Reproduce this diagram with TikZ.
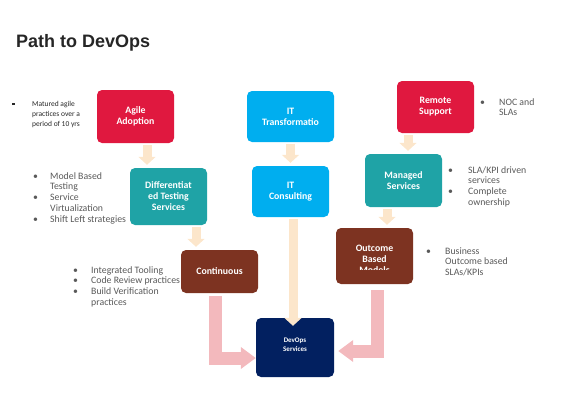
\documentclass[tikz,border=0pt]{standalone}
\usepackage{fontspec}
\setmainfont{Carlito}
\newfontfamily\titlefont{Liberation Sans}
\usetikzlibrary{arrows.meta}
\definecolor{boxred}{HTML}{E0183F}
\definecolor{boxteal}{HTML}{1FA3A6}
\definecolor{boxblue}{HTML}{00AEEF}
\definecolor{boxbrown}{HTML}{7D3321}
\definecolor{boxnavy}{HTML}{022060}
\definecolor{arrbeige}{HTML}{FCE6CB}
\definecolor{arrpink}{HTML}{F3B9BD}
\definecolor{listgray}{HTML}{595959}
\definecolor{titlegray}{HTML}{262626}
\tikzset{
  stepbox/.style={rounded corners=5pt, inner sep=0pt, minimum width=77pt},
  boxtext/.style={text=white, align=center, inner sep=0pt, font=\bfseries\fontsize{9.8}{11}\selectfont},
  bullets/.style={text=listgray, inner sep=0pt, anchor=north west, font=\fontsize{9.8}{10.75}\selectfont},
  beigearrow/.style={draw=arrbeige, line width=9pt, -{Triangle[length=8pt,width=17pt]}},
  pinkarrow/.style={draw=arrpink, line width=13pt, line join=miter, -{Triangle[length=15pt,width=21pt]}}
}
\begin{document}
\begin{tikzpicture}[x=1pt, y=-1pt]
\useasboundingbox (0,0) rectangle (570,400);
\node[anchor=base west, inner sep=0pt, text=titlegray, font=\titlefont\bfseries\fontsize{18}{20}\selectfont] (title) at (16,47) {Path to DevOps};

\node[stepbox, fill=boxred, minimum height=53pt] (agile) at (135.5,116.5) {};
\node[boxtext] at (agile) {Agile\\Adoption};
\node[stepbox, fill=boxteal, minimum height=57pt] (difftest) at (168.5,196.5) {};
\node[boxtext] at (difftest) {Differentiat\\ed Testing\\Services};
\node[stepbox, fill=boxbrown, minimum height=43pt] (cont) at (219.5,271.5) {};
\node[boxtext] at (cont) {Continuous};
\node[stepbox, fill=boxblue, minimum width=87pt, minimum height=51pt] (ittrans) at (290.5,116.5) {};
\node[boxtext] at (ittrans) {IT\\Transformatio};
\node[stepbox, fill=boxblue, minimum height=51pt] (itcons) at (290.5,191.5) {};
\node[boxtext] at (itcons) {IT\\Consulting};
\node[stepbox, fill=boxred, minimum height=52pt] (remote) at (435.5,107) {};
\node[boxtext] at (remote) {Remote\\Support};
\node[stepbox, fill=boxteal, minimum height=53pt] (managed) at (403.5,180.5) {};
\node[boxtext] at (managed) {Managed\\Services};
\node[stepbox, fill=boxbrown, minimum height=56pt] (outcome) at (374.5,256) {};
\begin{scope}
\clip (336,228) rectangle (413,269);
\node[boxtext] at ([yshift=-3pt]outcome.center) {Outcome\\Based\\Models};
\end{scope}
\node[stepbox, fill=boxnavy, minimum width=78pt, minimum height=59pt] (devops) at (295,347.5) {};
\node[boxtext, font=\bfseries\fontsize{7}{9}\selectfont] at ([yshift=3pt]devops.center) {DevOps\\Services};

\draw[beigearrow] ([xshift=11.5pt,yshift=-2pt]agile.south) -- ([xshift=11.5pt,yshift=3pt]agile.south |- difftest.north);
\draw[beigearrow] ([xshift=-23.5pt]cont.north |- difftest.south) ++(0,2) -- ([xshift=-23.5pt,yshift=3pt]cont.north);
\draw[beigearrow] ([yshift=-2pt]ittrans.south) -- ([yshift=3pt]itcons.north);
\draw[beigearrow] ([xshift=2.5pt,yshift=-2pt]itcons.south) -- ([xshift=2.5pt,yshift=-8pt]itcons.south |- devops.north);
\draw[beigearrow] ([xshift=4.5pt]managed.north |- remote.south) ++(0,2) -- ([xshift=4.5pt,yshift=3pt]managed.north);
\draw[beigearrow] ([xshift=12.5pt]outcome.north |- managed.south) ++(0,2) -- ([xshift=12.5pt,yshift=3pt]outcome.north);

\draw[pinkarrow] ([xshift=-4pt,yshift=-3pt]cont.south) |- ([yshift=-10.5pt]devops.west);
\draw[pinkarrow] ([xshift=3pt,yshift=-6pt]outcome.south) |- ([xshift=4pt,yshift=-3.5pt]devops.east);

\node[bullets, text=titlegray, font=\fontsize{7.5}{10}\selectfont] (maturedlist) at (12,99.5) {\begin{tabular}{@{}p{20pt}@{}l@{}}
\rule[1.5pt]{2.5pt}{2.5pt} & Matured agile\\ & practices over a\\ & period of 10 yrs
\end{tabular}};
\node[bullets] (difflist) at (33,171.5) {\begin{tabular}{@{}p{17pt}@{}l@{}}
\textbullet & Model Based\\ & Testing\\ \textbullet & Service\\ & Virtualization\\ \textbullet & Shift Left strategies
\end{tabular}};
\node[bullets] (contlist) at (73,265.5) {\begin{tabular}{@{}p{18pt}@{}l@{}}
\textbullet & Integrated Tooling\\ \textbullet & Code Review practices\\ \textbullet & Build Verification\\ & practices
\end{tabular}};
\node[bullets] (remotelist) at (480,97.5) {\begin{tabular}{@{}p{19pt}@{}l@{}}
\textbullet & NOC and\\ & SLAs
\end{tabular}};
\node[bullets] (managedlist) at (448,165.5) {\begin{tabular}{@{}p{20pt}@{}l@{}}
\textbullet & SLA/KPI driven\\ & services\\ \textbullet & Complete\\ & ownership
\end{tabular}};
\node[bullets] (outcomelist) at (426,246.5) {\begin{tabular}{@{}p{19pt}@{}l@{}}
\textbullet & Business\\ & Outcome based\\ & SLAs/KPIs
\end{tabular}};
\end{tikzpicture}
\end{document}
